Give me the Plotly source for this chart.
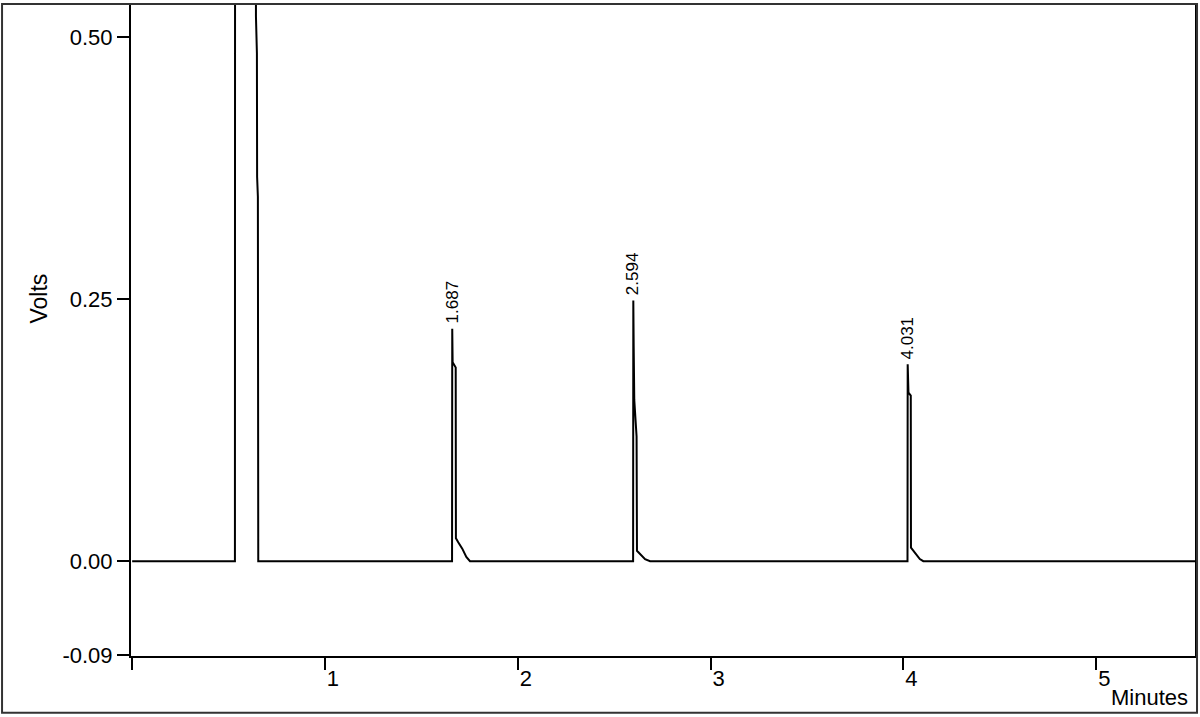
import plotly.graph_objects as go

# chromatogram trace (minutes, volts)
time_min = [
    0.000, 0.533, 0.534, 0.641, 0.642, 0.647, 0.648, 0.652, 0.654,
    1.659, 1.660, 1.662, 1.678, 1.679, 1.691, 1.712, 1.733, 1.752,
    2.598, 2.599, 2.601, 2.604, 2.616, 2.618, 2.640, 2.660, 2.686,
    4.021, 4.022, 4.026, 4.038, 4.039, 4.060, 4.085, 4.103,
    5.520,
]
volts = [
    0.000, 0.000, 0.900, 0.900, 0.520, 0.485, 0.367, 0.348, 0.000,
    0.000, 0.222, 0.190, 0.185, 0.022, 0.018, 0.012, 0.004, 0.000,
    0.000, 0.249, 0.205, 0.154, 0.119, 0.010, 0.006, 0.002, 0.000,
    0.000, 0.188, 0.161, 0.158, 0.013, 0.008, 0.002, 0.000,
    0.000,
]

# peak labels
peak_time = [1.660, 2.599, 4.022]
peak_height = [0.222, 0.249, 0.188]
peak_label = ["1.687", "2.594", "4.031"]

x_ticks = [0, 1, 2, 3, 4, 5]
x_tick_text = ["", "1", "2", "3", "4", "5"]
y_ticks = [-0.09, 0.0, 0.25, 0.50]
y_tick_text = ["-0.09", "0.00", "0.25", "0.50"]

FONT = "Liberation Sans, Arial, sans-serif"

fig = go.Figure()

fig.add_trace(go.Scatter(
    x=time_min, y=volts, mode="lines",
    line=dict(color="black", width=2),
    showlegend=False, hoverinfo="skip",
))

# retention time labels, rotated above each peak
for t, h, lab in zip(peak_time, peak_height, peak_label):
    fig.add_annotation(
        x=t, y=h, text=lab, showarrow=False, textangle=-90,
        xanchor="center", yanchor="bottom", yshift=3,
        font=dict(family=FONT, size=17, color="black"),
    )

# axis titles
fig.add_annotation(
    xref="paper", yref="paper", x=-0.1006, y=0.549, text="Volts",
    showarrow=False, textangle=-90,
    font=dict(family=FONT, size=23, color="black"),
)
fig.add_annotation(
    xref="paper", yref="paper", x=0.9953, y=-0.063, text="Minutes",
    showarrow=False, xanchor="right", yanchor="middle",
    font=dict(family=FONT, size=22, color="black"),
)

# outer frame around the whole picture
fig.add_shape(
    type="rect", xref="paper", yref="paper",
    x0=-0.1212, x1=1.0019, y0=-0.0873, y1=1.0015,
    line=dict(color="#333333", width=2),
)

fig.update_xaxes(
    range=[-0.006, 5.512],
    tickmode="array", tickvals=x_ticks, ticktext=x_tick_text,
    ticks="outside", ticklen=12, tickwidth=2, tickcolor="black",
    ticklabelshift=8, ticklabelstandoff=-10,
    showline=True, linecolor="black", linewidth=2, mirror=True,
    showgrid=False, zeroline=False,
    tickfont=dict(family=FONT, size=22, color="black"),
)
fig.update_yaxes(
    range=[-0.0905, 0.531],
    tickmode="array", tickvals=y_ticks, ticktext=y_tick_text,
    ticks="outside", ticklen=12, tickwidth=2, tickcolor="black",
    ticklabelstandoff=0,
    showline=True, linecolor="black", linewidth=2, mirror=True,
    showgrid=False, zeroline=False,
    tickfont=dict(family=FONT, size=22, color="black"),
)

fig.update_layout(
    width=1200, height=717,
    margin=dict(l=131, r=5, t=3, b=61),
    paper_bgcolor="white", plot_bgcolor="white",
)

# drop the default body margin so the figure fills the window exactly
fig.write_html(
    "out.html",
    config={"displayModeBar": False},
    post_script="document.body.style.margin='0';document.body.style.overflow='hidden';",
)
